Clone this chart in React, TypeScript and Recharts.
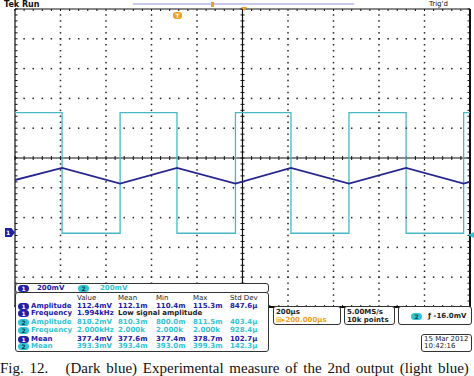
import React from 'react';
import { ComposedChart, Line, Scatter, XAxis, YAxis, ReferenceLine } from 'recharts';

// Time axis (µs), 200 µs/div
const timeDivs = [-1000, -800, -600, -400, -200, 0, 200, 400, 600, 800, 1000];
// Voltage axis (mV), 200 mV/div, channel ground at 0
const voltDivs = [-500, -300, -100, 100, 300, 500, 700, 900, 1100, 1300, 1500];

// Channel 1 (dark blue) triangle wave
const ch1Time = [-1000, -793, -538, -288, -31, 213, 468, 719, 972, 1000];
const ch1Volt = [352, 434, 328, 434, 328, 434, 328, 434, 328, 340];
// Channel 2 (light blue) square wave (step after)
const ch2Time = [-1000, -793, -538, -288, -31, 213, 468, 719, 972, 1000];
const ch2Volt = [805, -5, 805, -5, 805, -5, 805, -5, 805, 805];

const measHeaders = ['Value', 'Mean', 'Min', 'Max', 'Std Dev'];
const measChannels = [1, 1, 2, 2, 1, 2];
const measLabels = ['Amplitude', 'Frequency', 'Amplitude', 'Frequency', 'Mean', 'Mean'];
const measValue = ['112.4mV', '1.994kHz', '810.2mV', '2.000kHz', '377.4mV', '393.3mV'];
const measMean = ['112.1m', 'Low signal amplitude', '810.3m', '2.000k', '377.6m', '393.4m'];
const measMin = ['110.4m', '', '800.0m', '2.000k', '377.4m', '393.0m'];
const measMax = ['115.3m', '', '811.5m', '2.000k', '378.7m', '399.3m'];
const measStd = ['847.6µ', '', '403.4µ', '928.4µ', '102.7µ', '142.3µ'];

const FONT = '"DejaVu Sans", "Liberation Sans", sans-serif';
const CH1_LINE = '#262690';
const CH2_LINE = '#48b8c4';
const CH1_TXT = '#2020a8';
const CH2_TXT = '#30c4d4';
const ORANGE = '#f0a020';

const W = 474;
const H = 376;
const MARGIN = { top: 9, left: 15, right: 4, bottom: 69 };
const PX_T = 2000 / (W - MARGIN.left - MARGIN.right); // µs per px
const PX_V = 2000 / (H - MARGIN.top - MARGIN.bottom); // mV per px

function Txt(props: { x: number; y: number; s?: number; c?: string; w?: number; ls?: number; f?: string; children: React.ReactNode }) {
  const s = props.s ?? 7;
  return (
    <div
      style={{
        position: 'absolute',
        left: props.x,
        top: props.y - s / 2,
        fontSize: s,
        lineHeight: `${s}px`,
        color: props.c ?? '#222',
        fontWeight: props.w ?? 700,
        fontFamily: props.f ?? FONT,
        whiteSpace: 'nowrap',
        letterSpacing: props.ls ?? 0,
      }}
    >
      {props.children}
    </div>
  );
}

function Pill(props: { x: number; y: number; n: number }) {
  const bg = props.n === 1 ? CH1_TXT : CH2_TXT;
  const fg = props.n === 1 ? '#ffffff' : '#0a3a40';
  return (
    <div
      style={{
        position: 'absolute',
        left: props.x,
        top: props.y - 3.5,
        width: 11,
        height: 7,
        borderRadius: 3.5,
        background: bg,
        color: fg,
        fontSize: 6,
        lineHeight: '7px',
        textAlign: 'center',
        fontWeight: 700,
        fontFamily: FONT,
      }}
    >
      {props.n}
    </div>
  );
}

function Box(props: { x: number; y: number; w: number; h: number }) {
  return (
    <div
      style={{
        position: 'absolute',
        left: props.x,
        top: props.y,
        width: props.w,
        height: props.h,
        border: '1px solid #333',
        borderRadius: 3,
        background: '#fff',
        boxSizing: 'border-box',
      }}
    />
  );
}

const GridDot = (p: any) => {
  if (p.cx == null || p.cy == null) return <g />;
  return <rect x={p.cx - 0.75} y={p.cy - 0.75} width={1.5} height={1.5} fill="#262626" />;
};

export default function App() {
  const ch1Data = ch1Time.map((t, i) => ({ t, v: ch1Volt[i] }));
  const ch2Data = ch2Time.map((t, i) => ({ t, v: ch2Volt[i] }));

  const minorT: number[] = [];
  for (let i = 0; i <= 50; i++) minorT.push(timeDivs[0] + i * 40);
  const minorV: number[] = [];
  for (let i = 0; i <= 50; i++) minorV.push(voltDivs[0] + i * 40);

  const tMin = timeDivs[0];
  const tMax = timeDivs[timeDivs.length - 1];
  const vMin = voltDivs[0];
  const vMax = voltDivs[voltDivs.length - 1];
  const tC = timeDivs[5];
  const vC = voltDivs[5];

  // dotted graticule: dots along interior division lines
  const gridDots: { t: number; v: number }[] = [];
  voltDivs.slice(1, -1).filter((v) => v !== vC).forEach((v) => {
    minorT.slice(1, -1).forEach((t) => gridDots.push({ t, v }));
  });
  timeDivs.slice(1, -1).filter((t) => t !== tC).forEach((t) => {
    minorV.slice(1, -1).forEach((v) => gridDots.push({ t, v }));
  });

  const tick = (key: string, a: { x: number; y: number }, b: { x: number; y: number }, sw = 1) => (
    <ReferenceLine key={key} segment={[a, b]} stroke="#111" strokeWidth={sw} ifOverflow="visible" />
  );

  const rowY = [306, 313.5, 322, 330, 339, 346];
  const colX = [77, 118, 156, 193, 230];

  return (
    <div style={{ position: 'absolute', left: 0, top: 0, width: W, height: H, overflow: 'hidden', background: '#fff' }}>
      <div style={{ position: 'absolute', left: 0, top: 0 }}>
        <ComposedChart width={W} height={H} margin={MARGIN}>
          <XAxis dataKey="t" type="number" domain={[tMin, tMax]} hide allowDataOverflow />
          <YAxis dataKey="v" type="number" domain={[vMin, vMax]} hide allowDataOverflow />
          <Scatter data={gridDots} dataKey="v" shape={GridDot} isAnimationActive={false} />
          <ReferenceLine x={tC} stroke="#111" strokeWidth={1.2} />
          <ReferenceLine y={vC} stroke="#111" strokeWidth={1.2} />
          <ReferenceLine x={tMin} stroke="#111" strokeWidth={1.2} ifOverflow="visible" />
          <ReferenceLine x={tMax} stroke="#111" strokeWidth={2} ifOverflow="visible" />
          <ReferenceLine y={vMax} stroke="#111" strokeWidth={1} ifOverflow="visible" />
          <ReferenceLine y={vMin} stroke="#111" strokeWidth={2} ifOverflow="visible" />
          {minorT.map((t) => tick(`ct${t}`, { x: t, y: vC - 2 * PX_V }, { x: t, y: vC + 2 * PX_V }))}
          {minorV.map((v) => tick(`cv${v}`, { x: tC - 2 * PX_T, y: v }, { x: tC + 2 * PX_T, y: v }))}
          {minorT.map((t) => tick(`tt${t}`, { x: t, y: vMax }, { x: t, y: vMax - 2 * PX_V }))}
          {minorT.map((t) => tick(`bt${t}`, { x: t, y: vMin }, { x: t, y: vMin + 2 * PX_V }))}
          {minorV.map((v) => tick(`lt${v}`, { x: tMin, y: v }, { x: tMin + 2.5 * PX_T, y: v }))}
          {minorV.map((v) => tick(`rt${v}`, { x: tMax, y: v }, { x: tMax - 2.5 * PX_T, y: v }))}
          <Line data={ch2Data} dataKey="v" type="stepAfter" stroke={CH2_LINE} strokeWidth={1.3} dot={false} isAnimationActive={false} />
          <Line data={ch1Data} dataKey="v" type="linear" stroke={CH1_LINE} strokeWidth={1.8} dot={false} isAnimationActive={false} />
        </ComposedChart>
      </div>

      {/* Top status */}
      <Txt x={4} y={4.5} s={8} c="#111">Tek Run</Txt>
      <div style={{ position: 'absolute', left: 133, top: 3, width: 221, height: 2, background: '#c8c8ee' }} />
      <div style={{ position: 'absolute', left: 211, top: 2, width: 3, height: 5, background: ORANGE }} />
      <div style={{ position: 'absolute', left: 241, top: 7, width: 0, height: 0, borderLeft: '3px solid transparent', borderRight: '3px solid transparent', borderTop: `4px solid ${ORANGE}` }} />
      <div
        style={{
          position: 'absolute', left: 173, top: 12, width: 9, height: 7, borderRadius: 3, background: ORANGE,
          color: '#fff', fontSize: 6, lineHeight: '7px', textAlign: 'center', fontWeight: 700, fontFamily: FONT,
        }}
      >
        T
      </div>
      <Txt x={429} y={4} s={7} c="#111" w={400}>Trig'd</Txt>

      {/* Ground / trigger level markers */}
      <div
        style={{
          position: 'absolute', left: 5, top: 228, width: 10, height: 9, background: CH1_TXT,
          clipPath: 'polygon(0 0, 65% 0, 100% 50%, 65% 100%, 0 100%)',
          color: '#fff', fontSize: 6, lineHeight: '9px', fontWeight: 700, fontFamily: FONT, paddingLeft: 1, boxSizing: 'border-box',
        }}
      >
        1
      </div>
      <div
        style={{
          position: 'absolute', left: 468, top: 232, width: 6, height: 6, background: CH2_TXT,
          clipPath: 'polygon(0 50%, 100% 0, 100% 100%)',
        }}
      />

      {/* Channel scale bar + measurement table */}
      <Box x={15} y={283} w={254} h={10} />
      <Pill x={18} y={288} n={1} />
      <Txt x={37} y={288} c={CH1_TXT}>200mV</Txt>
      <Pill x={78} y={288} n={2} />
      <Txt x={100} y={288} c={CH2_TXT}>200mV</Txt>

      <Box x={15} y={292} w={254} h={60} />
      {measHeaders.map((h, i) => (
        <Txt key={h} x={colX[i]} y={298} c="#222" w={400}>{h}</Txt>
      ))}
      {measLabels.map((lab, r) => {
        const ch = measChannels[r];
        const col = ch === 1 ? CH1_TXT : CH2_TXT;
        const cells = [measValue[r], measMean[r], measMin[r], measMax[r], measStd[r]];
        return (
          <React.Fragment key={`row${r}`}>
            <Pill x={18} y={rowY[r]} n={ch} />
            <Txt x={31} y={rowY[r]} c={col}>{lab}</Txt>
            {cells.map((c, i) =>
              c ? (
                <Txt key={`c${r}-${i}`} x={colX[i]} y={rowY[r]} c={i === 1 && r === 1 ? '#222' : col}>{c}</Txt>
              ) : null
            )}
          </React.Fragment>
        );
      })}

      {/* Horizontal / acquisition / trigger boxes */}
      <Box x={273} y={306} w={68} h={19} />
      <Txt x={276} y={312} c="#222">200µs</Txt>
      <Txt x={276} y={320} c={ORANGE}>⊞▸200.000µs</Txt>

      <Box x={344} y={306} w={51} h={19} />
      <Txt x={347} y={312} c="#222">5.00MS/s</Txt>
      <Txt x={347} y={320} c="#222">10k points</Txt>

      <Box x={398} y={306} w={74} h={19} />
      <Pill x={411} y={316} n={2} />
      <Txt x={428} y={316} c="#222">ƒ -16.0mV</Txt>

      <Box x={421} y={334} w={51} h={18} />
      <Txt x={424} y={339.5} c="#222" w={400}>15 Mar 2012</Txt>
      <Txt x={424} y={346.5} c="#222" w={400}>10:42:16</Txt>

      {/* Caption */}
      <div
        style={{
          position: 'absolute', left: 0, top: 361, fontSize: 15, lineHeight: '15px',
          fontFamily: '"Liberation Serif", "DejaVu Serif", serif', color: '#111', whiteSpace: 'nowrap', wordSpacing: 2,
        }}
      >
        Fig. 12.&nbsp;&nbsp;&nbsp;(Dark blue) Experimental measure of the 2nd output (light blue)
      </div>
    </div>
  );
}
